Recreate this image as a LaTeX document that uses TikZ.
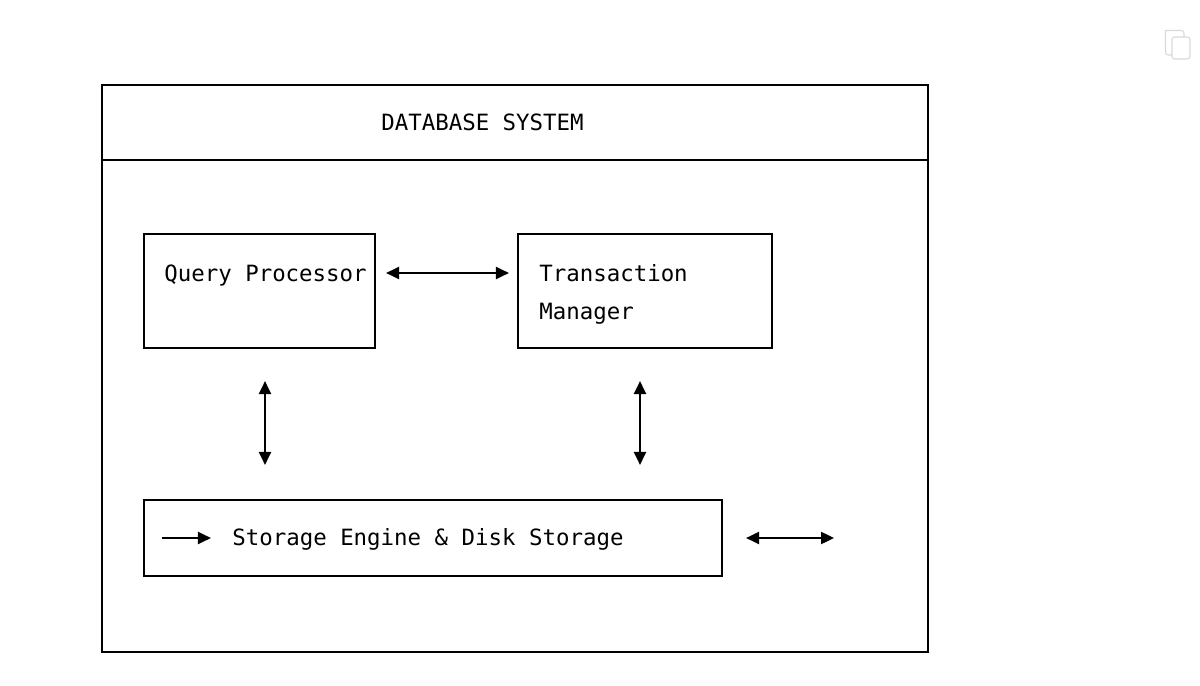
\documentclass[tikz,border=0pt]{standalone}
\usepackage{fontspec}
\setmonofont{DejaVu Sans Mono}
\usetikzlibrary{positioning,calc,arrows.meta}

\tikzset{
  blk/.style={draw, line width=1.2pt, inner sep=0pt},
  lbl/.style={inner sep=0pt, font=\ttfamily\fontsize{12.75}{21.6}\selectfont, align=left},
  dbl/.style={{Triangle[length=2.6mm,width=2.4mm]}-{Triangle[length=2.6mm,width=2.4mm]}, line width=1.2pt},
  sgl/.style={-{Triangle[length=2.6mm,width=2.4mm]}, line width=1.2pt},
}

\begin{document}
\begin{tikzpicture}
    \useasboundingbox[fill=white] (0,0) rectangle (24,-13.72);

    % Copy icon
    \draw [gray!30, line width=0.6pt, rounded corners=1.5pt] (23.31,-0.61) -- (23.68,-0.61) -- (23.68,-0.74)
        (23.31,-0.61) -- (23.31,-1.1) -- (23.44,-1.1);
    \draw [gray!30, line width=0.6pt, rounded corners=1.5pt] (23.44,-0.74) rectangle (23.8,-1.18);

    % Database system frame
    \node [blk, minimum width=16.52cm, minimum height=11.34cm] (dbs) at (10.30,-7.37) {};
    \draw [line width=1.2pt] (dbs.west |- 0,-3.2) -- (dbs.east |- 0,-3.2);
    \node [lbl, anchor=base] (title) at (9.65,-2.61) {DATABASE SYSTEM};

    % Query processor
    \node [blk, minimum width=4.62cm, minimum height=2.28cm] (qp) at (5.19,-5.82) {};
    \node [lbl, anchor=base west] (qplbl) at (3.28,-5.63) {Query Processor};

    % Transaction manager
    \node [blk, minimum width=5.08cm, minimum height=2.28cm] (tm) at (12.9,-5.82) {};
    \node [lbl, anchor=base west] (tmlbl) at (10.78,-6.39) {Transaction\\Manager};

    % Storage engine
    \node [blk, minimum width=11.56cm, minimum height=1.52cm] (st) at (8.66,-10.76) {};
    \node [lbl, anchor=base west] (stlbl) at (4.64,-10.91) {Storage Engine \& Disk Storage};

    % Links
    \draw [dbl] ([xshift=0.2cm,yshift=0.36cm]qp.east) -- ([xshift=-0.16cm,yshift=0.36cm]tm.west);
    \draw [dbl] ([xshift=0.11cm,yshift=-0.64cm]qp.south) -- ([xshift=0.11cm,yshift=0.68cm]qp.south |- st.north);
    \draw [dbl] ([xshift=-0.1cm,yshift=-0.64cm]tm.south) -- ([xshift=-0.1cm,yshift=0.68cm]tm.south |- st.north);

    % Storage arrows
    \coordinate (inA) at ([xshift=0.38cm]st.west);
    \coordinate (inB) at ([xshift=1.36cm]st.west);
    \draw [sgl] (inA) -- (inB);
    \coordinate (outA) at ([xshift=0.46cm]st.east);
    \coordinate (outB) at ([xshift=2.22cm]st.east);
    \draw [dbl] (outA) -- (outB);
\end{tikzpicture}
\end{document}
